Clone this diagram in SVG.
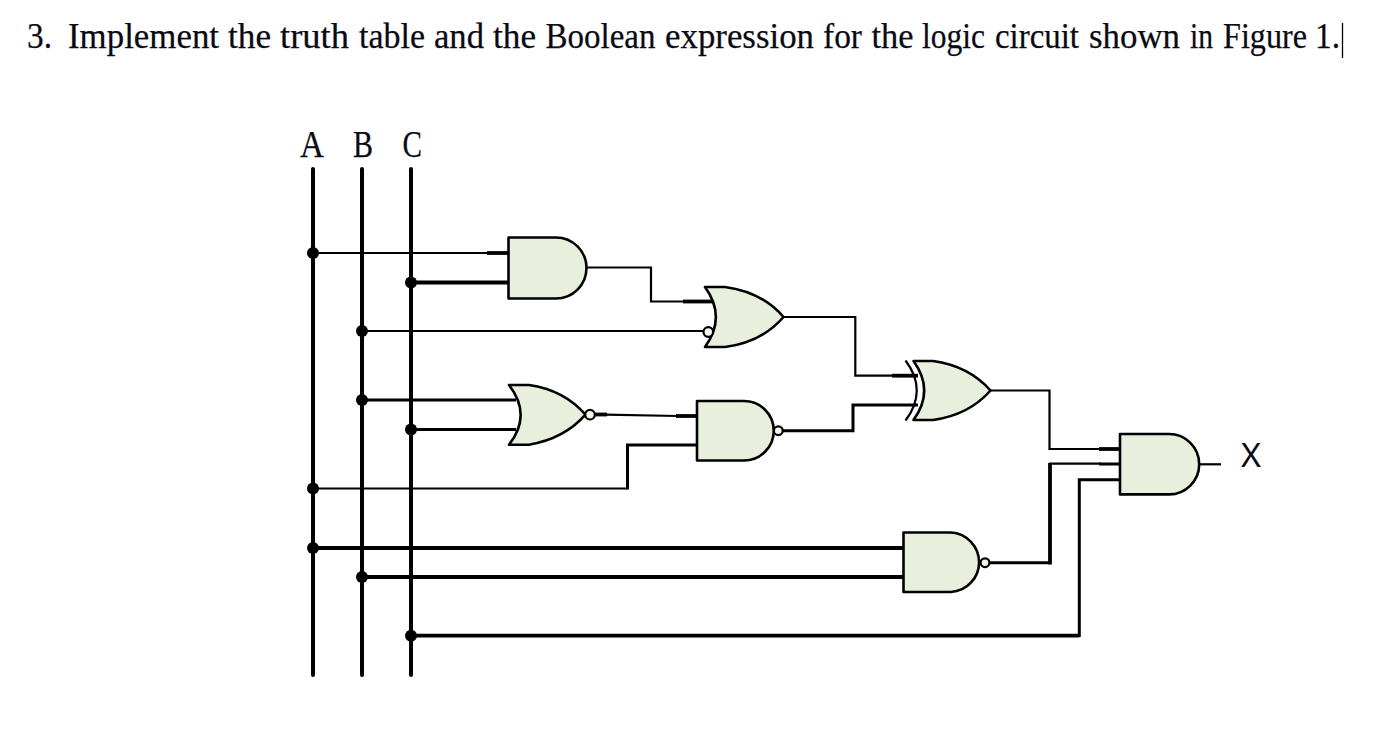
<svg xmlns="http://www.w3.org/2000/svg" width="1376" height="734" viewBox="0 0 1376 734">
<style>
.t{font-family:"Liberation Serif","DejaVu Serif",serif;fill:#0a0a14;stroke:#0a0a14;stroke-width:.25}
.g{fill:#e9efdd;stroke:#000;stroke-width:2.6;stroke-linejoin:round}
.b{fill:#f3f6ea;stroke:#000;stroke-width:2.2}
.w{fill:none;stroke:#000;stroke-linejoin:miter}
.n{stroke-width:2.200}
.m{stroke-width:3}
.k{stroke-width:3.800}
.r{stroke-width:4;stroke-linecap:round}
.d{fill:#000}
</style>
<rect width="1376" height="734" fill="#fff"/>
<g id="title">
<text class="t" y="48" font-size="36"><tspan x="27" textLength="25" lengthAdjust="spacingAndGlyphs">3.</tspan> <tspan x="68" textLength="151" lengthAdjust="spacingAndGlyphs">Implement</tspan> <tspan x="228" textLength="43" lengthAdjust="spacingAndGlyphs">the</tspan> <tspan x="280" textLength="69" lengthAdjust="spacingAndGlyphs">truth</tspan> <tspan x="359" textLength="66" lengthAdjust="spacingAndGlyphs">table</tspan> <tspan x="434" textLength="50" lengthAdjust="spacingAndGlyphs">and</tspan> <tspan x="493" textLength="43" lengthAdjust="spacingAndGlyphs">the</tspan> <tspan x="545.500" textLength="110" lengthAdjust="spacingAndGlyphs">Boolean</tspan> <tspan x="665" textLength="149" lengthAdjust="spacingAndGlyphs">expression</tspan> <tspan x="823" textLength="39" lengthAdjust="spacingAndGlyphs">for</tspan> <tspan x="871.500" textLength="42" lengthAdjust="spacingAndGlyphs">the</tspan> <tspan x="922" textLength="63" lengthAdjust="spacingAndGlyphs">logic</tspan> <tspan x="995" textLength="84" lengthAdjust="spacingAndGlyphs">circuit</tspan> <tspan x="1089" textLength="91" lengthAdjust="spacingAndGlyphs">shown</tspan> <tspan x="1190" textLength="23" lengthAdjust="spacingAndGlyphs">in</tspan> <tspan x="1223" textLength="84" lengthAdjust="spacingAndGlyphs">Figure</tspan> <tspan x="1315" textLength="25" lengthAdjust="spacingAndGlyphs">1.</tspan></text>
<path d="M1342.500 23V58" stroke="#000" stroke-width="1.300"/>
</g>
<g id="connectors">
<path class="w r" d="M313 169V675M362 169V675M411 169V675"/>
<path class="w n" d="M313 253H490"/><path class="w k" d="M487 253H508"/>
<path class="w k" d="M411 282.500H508"/>
<path class="w n" d="M362 331H706"/>
<path class="w n" d="M587 267.500H651V301.500H685"/><path class="w k" d="M683 301.500H712"/>
<path class="w m" d="M362 400H516M411 429.500H516"/>
<path class="w k" d="M594 414.500H607"/><path class="w n" d="M605 414.700L678 416"/><path class="w k" d="M676 416H697"/>
<path class="w n" d="M313 488.500H627.500"/><path class="w m" d="M627.500 489.500V445H697"/>
<path class="w n" d="M783.500 317H855.300V375.700H894"/><path class="w k" d="M892 375.700H918"/>
<path class="w m" d="M782 430.700H853V405H918"/>
<path class="w n" d="M990 390.500H1049.500V449H1101"/><path class="w k" d="M1099 449H1120"/>
<path class="w k" d="M313 548H904M362 577H904"/>
<path class="w m" d="M989 562.700H1050"/><path class="w k" d="M1050 564.500V463"/><path class="w n" d="M1049 463.700H1101"/><path class="w m" d="M1099 464H1120"/>
<path class="w k" d="M411 635.700H1079.300"/><path class="w m" d="M1079.300 637V479.700H1120"/>
<path class="w n" d="M1199 464.300H1221"/>
<circle class="d" cx="313" cy="253" r="6"/><circle class="d" cx="411" cy="282.500" r="6"/><circle class="d" cx="362" cy="331" r="6"/>
<circle class="d" cx="362" cy="400" r="6"/><circle class="d" cx="411" cy="429.500" r="6"/><circle class="d" cx="313" cy="488.500" r="6"/>
<circle class="d" cx="313" cy="548" r="6"/><circle class="d" cx="362" cy="577" r="6"/><circle class="d" cx="411" cy="635.700" r="6"/>
</g>
<g id="label-a"><text class="t" x="300" y="157" font-size="38" textLength="24" lengthAdjust="spacingAndGlyphs">A</text></g>
<g id="label-b"><text class="t" x="353" y="157" font-size="38" textLength="20" lengthAdjust="spacingAndGlyphs">B</text></g>
<g id="label-c"><text class="t" x="402.500" y="157" font-size="38" textLength="19.500" lengthAdjust="spacingAndGlyphs">C</text></g>
<g id="and-1"><path class="g" d="M508.500 237.500H556A30.500 30.500 0 0 1 556 298.500H508.500Z"/></g>
<g id="or-2"><path class="g" d="M705 287H725Q762 292 783.500 317Q762 342 725 347H705C719.500 327 719.500 307 705 287Z"/><circle class="b" cx="708.300" cy="332" r="4.800"/></g>
<g id="nor-1"><path class="g" d="M509 385H529Q564 390 585.500 414.700Q564 439 529 444.700H509C524.500 425 524.500 405 509 385Z"/><circle class="b" cx="590" cy="414.700" r="4.800"/></g>
<g id="nand-2"><path class="g" d="M697 401H744A29.700 29.700 0 0 1 744 460.500H697Z"/><circle class="b" cx="778.300" cy="430.700" r="4.400"/></g>
<g id="xor-1"><path class="g" d="M913.500 361H933Q969 366 990.500 390.500Q969 415 933 420H913.500C928 400 928 381 913.500 361Z"/><path class="w n" d="M905.500 360.500C920.500 380 920.500 401 905.500 420.500"/></g>
<g id="nand-3"><path class="g" d="M903.500 532.500H951A29.800 29.800 0 0 1 951 592H903.500Z"/><circle class="b" cx="985" cy="562.700" r="4.400"/></g>
<g id="and-final"><path class="g" d="M1120 434H1169A30.200 30.200 0 0 1 1169 494.400H1120Z"/></g>
<g id="label-x"><text x="1241" y="467" font-family="'Noto Sans','Liberation Sans',sans-serif" font-size="33" fill="#0a0a14" textLength="20" lengthAdjust="spacingAndGlyphs">X</text></g>
</svg>
